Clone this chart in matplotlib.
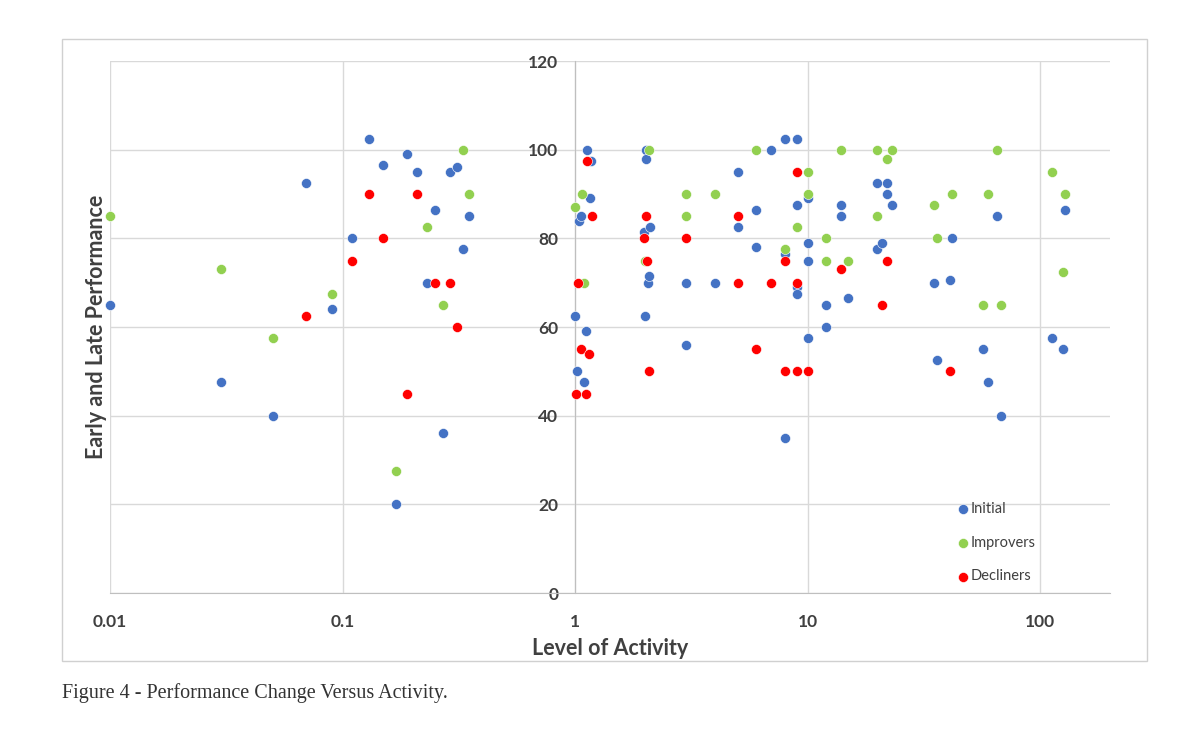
import matplotlib
matplotlib.use("Agg")
import matplotlib.pyplot as plt
from matplotlib.patches import Rectangle

# level of activity / performance for each group
initial_x = [0.01, 0.03, 0.05, 0.07, 0.09, 0.11, 0.13, 0.15, 0.17, 0.19, 0.21, 0.23,
             0.25, 0.27, 0.29, 0.31, 0.33, 0.35,
             1.0, 1.02, 1.04, 1.06, 1.09, 1.11, 1.13, 1.16, 1.17,
             2.0, 1.99, 2.02, 2.02, 2.07, 2.09, 2.11, 3.0, 3.0, 4.0, 5.0, 5.0, 6.0, 6.0,
             7.0, 8.0, 8.0, 8.0, 9.0, 9.0, 9.0, 9.0, 10, 10, 10, 10,
             12, 12, 14, 14, 15, 20, 20, 21, 22, 22, 23, 35, 36, 41, 42, 57, 60, 65, 68,
             113, 125, 128]
initial_y = [65, 47.5, 40, 92.5, 64, 80, 102.5, 96.5, 20, 99, 95, 70,
             86.5, 36, 95, 96, 77.5, 85,
             62.5, 50, 84, 85, 47.5, 59, 100, 89, 97.5,
             62.5, 81.5, 100, 98, 70, 71.5, 82.5, 70, 56, 70, 95, 82.5, 86.5, 78,
             100, 102.5, 76.5, 35, 102.5, 87.5, 69, 67.5, 89, 79, 75, 57.5,
             65, 60, 87.5, 85, 66.5, 92.5, 77.5, 79, 92.5, 90, 87.5, 70, 52.5, 70.5, 80,
             55, 47.5, 85, 40,
             57.5, 55, 86.5]

improvers_x = [0.01, 0.03, 0.05, 0.09, 0.17, 0.23, 0.27, 0.33, 0.35,
               1.0, 1.07, 1.09, 2.0, 2.09, 3.0, 3.0, 4.0, 6.0, 8.0, 9.0, 10, 10,
               12, 12, 14, 15, 20, 20, 22, 23, 35, 36, 42, 57, 60, 65, 68,
               113, 125, 128]
improvers_y = [85, 73, 57.5, 67.5, 27.5, 82.5, 65, 100, 90,
               87, 90, 70, 75, 100, 90, 85, 90, 100, 77.5, 82.5, 95, 90,
               80, 75, 100, 75, 100, 85, 98, 100, 87.5, 80, 90, 65, 90, 100, 65,
               95, 72.5, 90]

decliners_x = [0.07, 0.11, 0.13, 0.15, 0.19, 0.21, 0.25, 0.29, 0.31,
               1.01, 1.03, 1.06, 1.11, 1.13, 1.15, 1.18, 1.99, 2.02, 2.05, 2.09,
               3.0, 5.0, 5.0, 6.0, 7.0, 8.0, 8.0, 9.0, 9.0, 9.0, 10,
               14, 21, 22, 41]
decliners_y = [62.5, 75, 90, 80, 45, 90, 70, 70, 60,
               45, 70, 55, 45, 97.5, 54, 85, 80, 85, 75, 50,
               80, 85, 70, 55, 70, 75, 50, 95, 70, 50, 50,
               73, 65, 75, 50]

x_ticks = [0.01, 0.1, 1, 10, 100]
x_tick_labels = ["0.01", "0.1", "1", "10", "100"]
y_ticks = [0, 20, 40, 60, 80, 100, 120]

plt.rcParams["font.family"] = ["Lato", "DejaVu Sans"]
text_col = "#404040"
grid_col = "#d9d9d9"

fig = plt.figure(figsize=(12, 7.32), dpi=100)
ax = fig.add_axes([110 / 1200, 139 / 732, 1000 / 1200, 532 / 732])

ax.set_xscale("log")
ax.set_xlim(0.01, 200)
ax.set_ylim(0, 120)

ms = 52
ax.scatter(initial_x, initial_y, s=ms, color="#4472C4", edgecolors="white",
           linewidths=0.4, label="Initial", zorder=3, clip_on=False)
ax.scatter(improvers_x, improvers_y, s=ms, color="#92D050", edgecolors="white",
           linewidths=0.4, label="Improvers", zorder=4, clip_on=False)
ax.scatter(decliners_x, decliners_y, s=ms, color="#FF0000", edgecolors="white",
           linewidths=0.4, label="Decliners", zorder=5, clip_on=False)

# axes: y axis sits at x = 1
ax.spines["left"].set_position(("data", 1))
ax.spines["left"].set_color("#bfbfbf")
ax.spines["bottom"].set_color("#bfbfbf")
ax.spines["top"].set_visible(False)
ax.spines["right"].set_visible(False)

ax.set_xticks(x_ticks)
ax.set_xticklabels(x_tick_labels)
ax.xaxis.set_minor_locator(matplotlib.ticker.NullLocator())
ax.set_yticks(y_ticks)
ax.tick_params(axis="both", length=0, labelsize=12.5, labelcolor=text_col)
ax.tick_params(axis="x", pad=15)
ax.tick_params(axis="y", pad=12)
for lab in ax.get_xticklabels() + ax.get_yticklabels():
    lab.set_fontweight("bold")

ax.grid(True, color=grid_col, linewidth=1)
ax.set_axisbelow(True)

ax.set_xlabel("Level of Activity", fontsize=15.5, fontweight="bold", color=text_col)
ax.xaxis.set_label_coords(0.5, -0.085)
ax.set_ylabel("Early and Late Performance", fontsize=15.5, fontweight="bold", color=text_col)
ax.yaxis.set_label_coords(-0.003, 0.5)

ax.legend(loc="upper left", bbox_to_anchor=(0.84, 0.182), frameon=False,
          fontsize=10.5, labelcolor=text_col, handletextpad=0.0,
          labelspacing=1.35, handlelength=1.0, borderaxespad=0, markerscale=1.0)

# outer frame and caption
fig.patches.append(Rectangle((62 / 1200, 1 - 661 / 732), 1085 / 1200, 622 / 732,
                             transform=fig.transFigure, fill=False,
                             edgecolor="#d0d0d0", linewidth=1))
fig.text(62 / 1200, 1 - 693 / 732, "Figure 4 - Performance Change Versus Activity.",
         family=["Liberation Serif", "DejaVu Serif"], fontsize=14.5, color="#333333",
         va="center", ha="left")

fig.savefig("out.png", dpi=100)
